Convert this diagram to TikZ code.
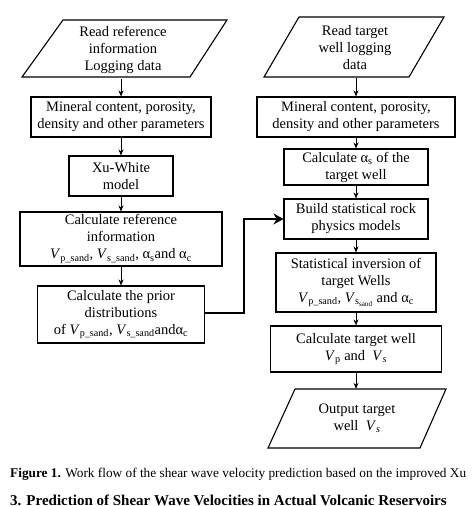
\documentclass[tikz,border=0pt]{standalone}
\usepackage{fontspec}
\setmainfont{Liberation Serif}
\usetikzlibrary{arrows.meta}
\newcommand{\fs}{\fontsize{14.5}{17}\selectfont}
\newcommand{\sub}[1]{\textsubscript{#1}}
\begin{document}
\begin{tikzpicture}[x=1pt,y=-1pt,
  box/.style={draw, line width=1.1pt, align=center, inner sep=0pt, font=\fs},
  txt/.style={align=center, inner sep=0pt, font=\fs},
  outline/.style={draw, line width=1.1pt, line join=miter},
  arr/.style={line width=0.9pt, -{Stealth[length=6pt,width=5pt]}},
  bigarr/.style={line width=1.1pt, -{Stealth[length=10pt,width=11pt]}}]
\useasboundingbox (0,0) rectangle (474,506);
% left column
\draw[outline] (63,20) -- (227,20) -- (190,77) -- (22,77) -- cycle;
\node[txt, minimum height=57pt] (p1) at (123,50) {Read reference\\information\\Logging data};
\node[box, minimum width=180pt, minimum height=40pt] (b2) at (121,117) {Mineral content, porosity,\\density and other parameters};
\node[box, minimum width=104pt, minimum height=40pt] (b3) at (121,176) {Xu-White\\model};
\node[box, minimum width=202pt, minimum height=54pt] (b4) at (121,239) {Calculate reference\\information\\\textit{V}\sub{p\_sand}, \textit{V}\sub{s\_sand}, α\sub{s}and α\sub{c}};
\node[box, minimum width=167pt, minimum height=57pt] (b5) at (121,314.5) {Calculate the prior\\distributions\\of \textit{V}\sub{p\_sand}, \textit{V}\sub{s\_sand}andα\sub{c}};
% right column
\draw[outline] (299,17) -- (444,17) -- (409,77) -- (264,77) -- cycle;
\node[txt, minimum height=60pt] (p2) at (355,48) {Read target\\well logging\\data};
\node[box, minimum width=198pt, minimum height=40pt] (r2) at (356,117) {Mineral content, porosity,\\density and other parameters};
\node[box, minimum width=144pt, minimum height=36pt] (r3) at (356,167) {Calculate α\sub{s} of the\\target well};
\node[box, minimum width=144pt, minimum height=40pt] (r4) at (356,219) {Build statistical rock\\physics models};
\node[box, minimum width=160pt, minimum height=59pt] (r5) at (356,282.5) {Statistical inversion of\\target Wells\\\textit{V}\sub{p\_sand}, \textit{V}\sub{s\textsubscript{sand}} and α\sub{c}};
\node[box, minimum width=171pt, minimum height=46pt] (r6) at (356,349) {Calculate target well\\\textit{V}\sub{p} and \ \textit{V}\sub{\textit{s}}};
\draw[outline] (295,389) -- (446,389) -- (420,448) -- (268,448) -- cycle;
\node[txt, minimum height=59pt] (p3) at (357,418.5) {Output target\\well \ \textit{V}\sub{\textit{s}}};
% arrows
\draw[arr] (p1.south -| b2) -- (b2.north);
\draw[arr] (b2) -- (b3);
\draw[arr] (b3) -- (b4);
\draw[arr] (b4) -- (b5);
\draw[arr] (p2.south -| r2) -- (r2.north);
\draw[arr] (r2) -- (r3);
\draw[arr] (r3) -- (r4);
\draw[arr] (r4) -- (r5);
\draw[arr] (r5) -- (r6);
\draw[arr] (r6.south) -- (p3.north -| r6);
\coordinate (k1) at (244,313);
\draw[bigarr] (b5.east |- k1) -- (k1) |- (r4.west);
% caption
\node[anchor=base west, inner sep=0pt, font=\fontsize{13.3}{15}\selectfont] (cap) at (10,477) {\textbf{Figure 1.} Work flow of the shear wave velocity prediction based on the improved Xu};
\node[anchor=base west, inner sep=0pt, font=\fontsize{15}{17}\selectfont\bfseries] (head) at (10,505) {3. Prediction of Shear Wave Velocities in Actual Volcanic Reservoirs};
\end{tikzpicture}
\end{document}
